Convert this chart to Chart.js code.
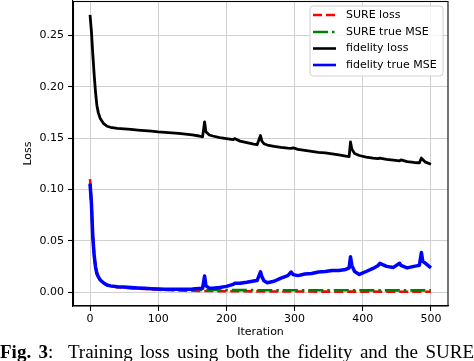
<!DOCTYPE html>
<html>
<head>
<meta charset="utf-8">
<script src="https://cdn.jsdelivr.net/npm/chart.js@4/dist/chart.umd.min.js"></script>
<style>
  html, body { margin: 0; padding: 0; background: #fff; }
  #wrap { position: relative; width: 474px; height: 361px; overflow: hidden; }
  #c { position: absolute; left: 0; top: 0; }
  #caption {
    position: absolute; left: 0; top: 342px; width: 474px;
    font-family: "Liberation Serif", "DejaVu Serif", serif; font-size: 19px;
    line-height: 20px; color: #000; white-space: nowrap;
    text-align: justify; text-align-last: justify;
  }
</style>
</head>
<body>
<div id="wrap">
  <canvas id="c" width="474" height="361"></canvas>
  <div id="caption"><b>Fig. 3</b>:&nbsp; Training loss using both the fidelity and the SURE</div>
</div>
<script>
// ---- data ----
const fidIters = [0,2,4,6,8,10,12,15,20,25,30,40,50,60,70,80,90,100,110,120,130,140,150,160,165,168,170,175,180,190,200,210,212,220,230,240,245,250,252,255,260,270,280,290,295,298,305,315,325,335,345,355,365,375,380,382,384,388,395,405,415,422,425,435,445,454,456,465,475,483,486,488,492,500];
const fidelityLoss = [0.270,0.254,0.232,0.212,0.195,0.182,0.175,0.169,0.164,0.1615,0.1605,0.1595,0.1590,0.1585,0.1578,0.1572,0.1567,0.1560,0.1555,0.1550,0.1545,0.1538,0.1530,0.1520,0.1512,0.1657,0.1560,0.1530,0.1520,0.1505,0.1495,0.1485,0.1495,0.1470,0.1455,0.1440,0.1435,0.1525,0.1470,0.1445,0.1432,0.1420,0.1410,0.1402,0.1400,0.1405,0.1390,0.1380,0.1370,0.1360,0.1355,0.1345,0.1335,0.1325,0.1320,0.1462,0.1390,0.1350,0.1330,0.1315,0.1305,0.1300,0.1305,0.1292,0.1285,0.1278,0.1288,0.1270,0.1262,0.1258,0.1305,0.1290,0.1265,0.1245];
const fidelityMSE = [0.1057,0.0866,0.054,0.036,0.0246,0.018,0.015,0.0117,0.0088,0.0068,0.0060,0.0052,0.0048,0.0045,0.0040,0.0036,0.0033,0.0030,0.0028,0.0027,0.0026,0.0027,0.0030,0.0035,0.0036,0.0156,0.0060,0.0038,0.0037,0.0045,0.0055,0.0075,0.0085,0.0085,0.0095,0.0108,0.0112,0.0197,0.0150,0.0110,0.0090,0.0105,0.0135,0.0160,0.0195,0.0170,0.0160,0.0175,0.0180,0.0195,0.0200,0.0210,0.0210,0.0220,0.0235,0.0343,0.0260,0.0200,0.0172,0.0200,0.0230,0.0256,0.0280,0.0250,0.0240,0.0280,0.0260,0.0235,0.0250,0.0260,0.0386,0.0300,0.0280,0.0236];
const sureIters = [0,2,4,6,8,10,12,15,20,25,30,40,50,60,70,80,90,100,120,140,160,200,250,300,350,400,450,500];
const sureLoss = [0.110,0.088,0.056,0.037,0.025,0.019,0.015,0.012,0.0088,0.0068,0.0058,0.0048,0.0042,0.0037,0.0033,0.0029,0.0025,0.0022,0.0017,0.0013,0.0011,0.0008,0.0006,0.0005,0.0004,0.0004,0.0003,0.0003];
const sureMSE = [0.104,0.086,0.054,0.036,0.025,0.018,0.015,0.0117,0.0087,0.0067,0.0058,0.0050,0.0045,0.0041,0.0037,0.0034,0.0031,0.0028,0.0024,0.0022,0.0020,0.0019,0.0018,0.0018,0.0017,0.0017,0.0016,0.0016];
const xTickValues = [0,100,200,300,400,500];
const yTickValues = [0.00,0.05,0.10,0.15,0.20,0.25];
const seriesNames = ['SURE loss','SURE true MSE','fidelity loss','fidelity true MSE'];

const pts = (xs, ys) => xs.map((x, i) => ({x: x, y: ys[i]}));
const FONT = "'DejaVu Sans', sans-serif";
Chart.defaults.color = '#000';
Chart.defaults.font.family = FONT;
Chart.defaults.font.size = 11;

const framePlugin = {
  id: 'frameLegend',
  afterDatasetsDraw(chart) {
    const ctx = chart.ctx, a = chart.chartArea;
    ctx.save();
    ctx.strokeStyle = '#000'; ctx.lineWidth = 1.1;
    ctx.strokeRect(a.left + 0.5, a.top + 0.5, a.right - a.left - 0.5, a.bottom - a.top - 0.5);
    // legend
    const bx = 310, by = 6, bw = 133, bh = 70, r = 3;
    ctx.beginPath();
    ctx.moveTo(bx + r, by); ctx.lineTo(bx + bw - r, by); ctx.quadraticCurveTo(bx + bw, by, bx + bw, by + r);
    ctx.lineTo(bx + bw, by + bh - r); ctx.quadraticCurveTo(bx + bw, by + bh, bx + bw - r, by + bh);
    ctx.lineTo(bx + r, by + bh); ctx.quadraticCurveTo(bx, by + bh, bx, by + bh - r);
    ctx.lineTo(bx, by + r); ctx.quadraticCurveTo(bx, by, bx + r, by);
    ctx.closePath();
    ctx.fillStyle = 'rgba(255,255,255,0.8)'; ctx.fill();
    ctx.strokeStyle = '#d0d0d0'; ctx.lineWidth = 1; ctx.stroke();
    const rows = [15, 32, 48.5, 65];
    chart.data.datasets.forEach((ds, i) => {
      const y = rows[i];
      ctx.beginPath();
      ctx.setLineDash(ds.borderDash || []);
      ctx.strokeStyle = ds.borderColor; ctx.lineWidth = 2.6;
      ctx.moveTo(313, y); ctx.lineTo(336, y); ctx.stroke();
      ctx.setLineDash([]);
      ctx.fillStyle = '#000'; ctx.font = '11px ' + FONT;
      ctx.textBaseline = 'middle'; ctx.textAlign = 'left';
      ctx.fillText(ds.label, 346, y);
    });
    ctx.restore();
  }
};

new Chart(document.getElementById('c'), {
  type: 'line',
  data: {
    datasets: [
      { label: seriesNames[0], data: pts(sureIters, sureLoss), borderColor: '#ff0000', borderWidth: 2.6, borderDash: [9, 4], order: 4 },
      { label: seriesNames[1], data: pts(sureIters, sureMSE), borderColor: '#008000', borderWidth: 2.6, borderDash: [15, 4, 2.5, 4], order: 3 },
      { label: seriesNames[2], data: pts(fidIters, fidelityLoss), borderColor: '#000000', borderWidth: 2.8, order: 2 },
      { label: seriesNames[3], data: pts(fidIters, fidelityMSE), borderColor: '#0000ff', borderWidth: 3.5, order: 1 }
    ]
  },
  options: {
    responsive: false,
    animation: false,
    events: [],
    elements: { point: { radius: 0 }, line: { tension: 0, borderJoinStyle: 'round', borderCapStyle: 'butt' } },
    layout: { padding: { left: 0, right: 26, top: 1, bottom: 15 } },
    plugins: { legend: { display: false }, tooltip: { enabled: false } },
    scales: {
      x: {
        type: 'linear', min: -25, max: 525,
        afterBuildTicks: s => { s.ticks = xTickValues.map(v => ({value: v})); },
        afterFit: s => { s.height = 40; s.paddingLeft = 0; s.paddingRight = 0; },
        ticks: { padding: 2, font: { size: 11 }, callback: v => String(v) },
        grid: { color: '#d0d0d0', lineWidth: 1, tickColor: '#000', tickLength: 5, tickWidth: 1.1 },
        border: { display: true, color: '#000', width: 1.1 },
        title: { display: true, text: 'Iteration', font: { size: 11 }, padding: { top: 0, bottom: 7 } }
      },
      y: {
        type: 'linear', min: -0.0136, max: 0.2835,
        afterBuildTicks: s => { s.ticks = yTickValues.map(v => ({value: v})); },
        afterFit: s => { s.width = 73; s.paddingTop = 0; s.paddingBottom = 0; },
        ticks: { padding: 4, font: { size: 11 }, callback: v => Number(v).toFixed(2) },
        grid: { color: '#d0d0d0', lineWidth: 1, tickColor: '#000', tickLength: 5, tickWidth: 1.1 },
        border: { display: true, color: '#000', width: 1.1 },
        title: { display: true, text: 'Loss', font: { size: 11 }, padding: { top: 22, bottom: 0 } }
      }
    }
  },
  plugins: [framePlugin]
});
</script>
</body>
</html>
